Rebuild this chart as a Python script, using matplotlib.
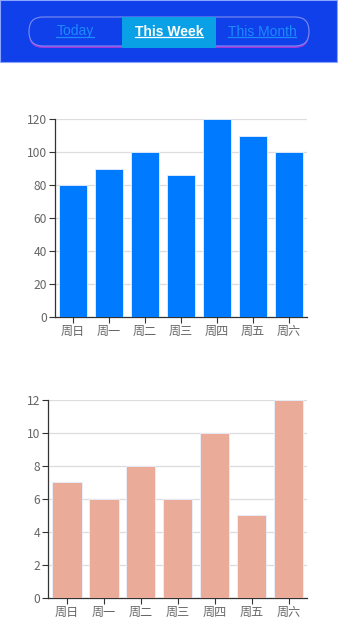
import matplotlib
matplotlib.use("Agg")
import matplotlib.pyplot as plt
from matplotlib.patches import Rectangle, FancyBboxPatch
import numpy as np

plt.rcParams["font.family"] = ["Noto Sans CJK SC", "DejaVu Sans"]

days = ["周日", "周一", "周二", "周三", "周四", "周五", "周六"]
week_values = [80, 90, 100, 86, 120, 110, 100]
second_values = [7, 6, 8, 6, 10, 5, 12]
tabs = ["Today", "This Week", "This Month"]

W, H = 345, 622
HEADER = "#1040ea"
ACTIVE = "#0aa0e6"
LINK = "#1a8cff"
BAR1 = "#007aff"
BAR2 = "#ebab99"
AXIS = "#333333"
LABEL = "#666666"
GRID = "#dddddd"

fig = plt.figure(figsize=(W / 100, H / 100), dpi=100)
fig.patch.set_facecolor("white")

# ---------------------------------------------------------------- header
hx = fig.add_axes([0, 0, 1, 1])
hx.set_xlim(0, W)
hx.set_ylim(H, 0)
hx.axis("off")
hx.add_patch(Rectangle((0, 0), 337, 62, facecolor=HEADER, edgecolor="#8aa4ff", lw=0.8))
hx.add_patch(FancyBboxPatch((29, 19), 280, 29, boxstyle="round,pad=0,rounding_size=14",
                            facecolor="#a035e0", edgecolor="none"))
hx.add_patch(FancyBboxPatch((29, 17), 280, 29, boxstyle="round,pad=0,rounding_size=14",
                            facecolor=HEADER, edgecolor="#7f8cf0", lw=0.8))
hx.add_patch(Rectangle((122, 17), 94, 31, facecolor=ACTIVE, edgecolor="none"))

centers = [75, 169, 262]
texts = []
for name, cx in zip(tabs, centers):
    active = name == "This Week"
    t = hx.text(cx, 35.5, name, ha="center", va="baseline", fontsize=10,
                family="Liberation Sans",
                fontweight="bold" if active else "normal",
                color="white" if active else LINK)
    texts.append((t, "white" if active else LINK))

fig.canvas.draw()
inv = hx.transData.inverted()
for t, c in texts:
    bb = t.get_window_extent()
    (x0, _), (x1, _) = inv.transform([(bb.x0, bb.y0), (bb.x1, bb.y0)])
    hx.plot([x0, x1], [37.3, 37.3], color=c, lw=0.9)


# ---------------------------------------------------------------- charts
def bar_chart(rect, values, color, ymax, step):
    left, top, right, bottom = rect
    ax = fig.add_axes([left / W, 1 - bottom / H, (right - left) / W, (bottom - top) / H])
    x = np.arange(len(days))
    ax.bar(x, values, width=0.8, color=color, edgecolor="#e8f0ff", lw=0.6, zorder=3)
    ax.set_xlim(-0.5, len(days) - 0.5)
    ax.set_ylim(0, ymax)
    ax.set_yticks(np.arange(0, ymax + step, step))
    ax.set_xticks(x)
    ax.set_xticklabels(days)
    ax.yaxis.grid(True, color=GRID, lw=0.9, zorder=0)
    for s in ("top", "right"):
        ax.spines[s].set_visible(False)
    for s in ("left", "bottom"):
        ax.spines[s].set_color(AXIS)
        ax.spines[s].set_linewidth(0.9)
    ax.tick_params(axis="both", colors=AXIS, labelcolor=LABEL, labelsize=8.7, length=4, width=0.8, pad=2)
    return ax


bar_chart((55, 119.3, 307, 317), week_values, BAR1, 120, 20)
bar_chart((48.3, 400, 307, 597.7), second_values, BAR2, 12, 2)

fig.savefig("out.png", dpi=100)
